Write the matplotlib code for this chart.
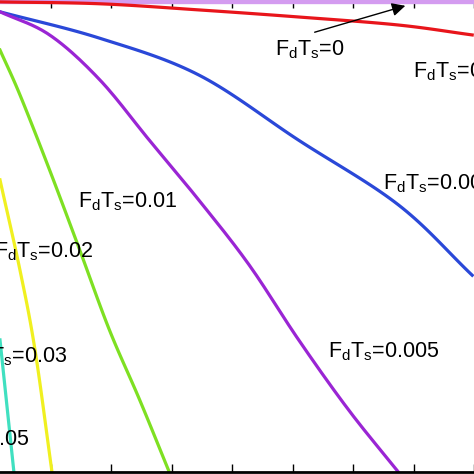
import matplotlib
matplotlib.use('Agg')
import matplotlib.pyplot as plt
import numpy as np

plt.rcParams['mathtext.fontset'] = 'custom'
plt.rcParams['mathtext.rm'] = 'Liberation Sans'
plt.rcParams['font.family'] = 'Liberation Sans'

red_x = [-0.84, 0.81, 2.45, 4.10, 5.75, 6.97]
red_y = [0.996, 0.992, 0.979, 0.964, 0.947, 0.926]
blue_x = [-0.84, 0.81, 2.45, 4.10, 5.75, 6.97]
blue_y = [0.975, 0.919, 0.841, 0.703, 0.566, 0.417]
purple_x = [-0.84, -0.02, 0.81, 1.63, 2.45, 3.28, 4.10, 4.93, 5.75]
purple_y = [0.975, 0.926, 0.831, 0.703, 0.576, 0.439, 0.280, 0.131, 0.0]
green_x = [-0.84, -0.51, -0.02, 0.48, 0.97, 1.47, 1.96]
green_y = [0.894, 0.799, 0.640, 0.470, 0.301, 0.153, 0.0]
yellow_x = [-0.84, -0.51, -0.26, 0.02]
yellow_y = [0.619, 0.428, 0.258, 0.0]
cyan_x = [-0.84, -0.61]
cyan_y = [0.280, 0.0]
top_x = [-0.84, 6.97]
top_y = [1.0, 1.0]


def smooth(xs, ys, n=20):
    p = np.column_stack([xs, ys]).astype(float)
    if len(p) < 3:
        return p[:, 0], p[:, 1]
    p = np.vstack([2 * p[0] - p[1], p, 2 * p[-1] - p[-2]])
    out = []
    t = np.linspace(0, 1, n, endpoint=False)[:, None]
    for i in range(1, len(p) - 2):
        p0, p1, p2, p3 = p[i - 1], p[i], p[i + 1], p[i + 2]
        seg = 0.5 * ((2 * p1) + (-p0 + p2) * t + (2 * p0 - 5 * p1 + 4 * p2 - p3) * t ** 2
                     + (-p0 + 3 * p1 - 3 * p2 + p3) * t ** 3)
        out.append(seg)
    out.append(p[-2][None, :])
    out = np.vstack(out)
    return out[:, 0], out[:, 1]


fig = plt.figure(figsize=(4.74, 4.74), dpi=100)
ax = fig.add_axes([0, 0.004, 1, 0.996])
ax.set_xlim(-0.84, 6.97)
ax.set_ylim(0, 1)
ax.plot(top_x, top_y, color='#d49cf0', lw=6, clip_on=False)
for xs, ys, c in [(red_x, red_y, '#e8151b'), (blue_x, blue_y, '#2a48d8'),
                  (purple_x, purple_y, '#9a25d4'), (green_x, green_y, '#7ee022'),
                  (yellow_x, yellow_y, '#f0f020'), (cyan_x, cyan_y, '#40e0c0')]:
    sx, sy = smooth(xs, ys)
    ax.plot(sx, sy, color=c, lw=2.3)
ax.set_xticks(range(0, 8))
ax.set_yticks([])
ax.tick_params(axis='x', direction='in', top=True, labelbottom=False, length=6, width=1)
for s in ['left', 'right', 'top']:
    ax.spines[s].set_visible(False)
ax.spines['bottom'].set_linewidth(2)


def lab(px, py, v):
    fig.text(px / 474, 1 - py / 474,
             r'F$_{\mathsf{d}}$T$_{\mathsf{s}}$=' + v, fontsize=15.5, va='center')


plt.rcParams['mathtext.sf'] = 'Liberation Sans'
lab(275, 50, '0')
lab(413, 72, '0.002')
lab(383, 184, '0.001')
lab(78, 202, '0.01')
lab(-6, 252, '0.02')
lab(328, 352, '0.005')
lab(-32, 357, '0.03')
lab(-70, 440, '0.05')
ax.annotate('', xy=(408 / 474, 1 - 5 / 474), xytext=(312 / 474, 1 - 33 / 474),
            xycoords='figure fraction', textcoords='figure fraction',
            arrowprops=dict(arrowstyle='-|>', color='black', lw=1, mutation_scale=20))
fig.savefig('out.png')
